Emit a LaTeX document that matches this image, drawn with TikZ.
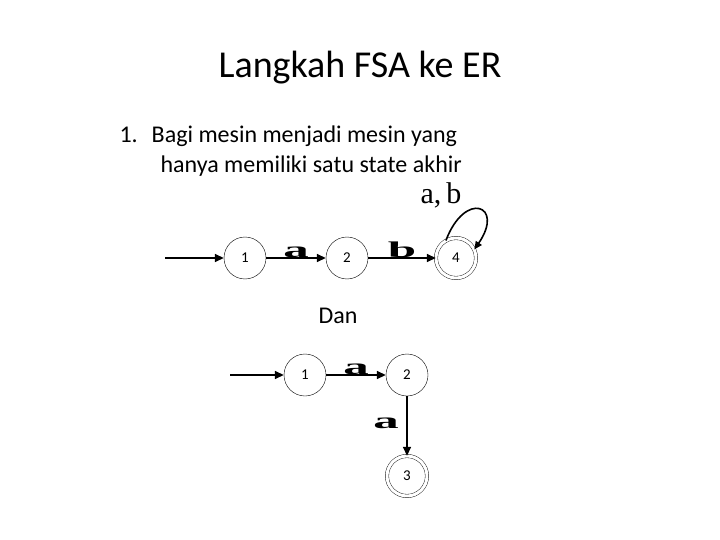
\documentclass[tikz,border=0pt]{standalone}
\usepackage{fontspec}
\setmainfont{Carlito}
\newfontfamily\serifl{Liberation Serif}
\usetikzlibrary{arrows.meta}
\begin{document}
\begin{tikzpicture}[x=1pt,y=-1pt,
  st/.style={circle,draw,thin,minimum size=42pt,inner sep=0pt,font=\fontsize{15}{15}\selectfont},
  fin/.style={st,double,double distance=3pt,minimum size=40pt},
  tr/.style={-{Triangle[length=9pt,width=8pt]},line width=1.6pt},
  lab/.style={font=\serifl\bfseries\fontsize{30}{30}\selectfont},
  txt/.style={anchor=west,font=\fontsize{24}{28}\selectfont}]
\useasboundingbox (0,0) rectangle (720,540);
\node[font=\fontsize{38}{40}\selectfont] (title) at (360,68) {Langkah FSA ke ER};
\node[txt] (l1) at (116,136) {1.\hspace{14pt}Bagi mesin menjadi mesin yang};
\node[txt] (l2) at (157,166) {hanya memiliki satu state akhir};
% top automaton
\coordinate (s1) at (165,258);
\node[st] (a1) at (245,258) {1};
\node[st] (a2) at (347,258) {2};
\node[fin] (a4) at (456,258) {4};
\draw[tr] (s1) -- (a1);
\draw[tr] (a1) -- node[lab,above=-4pt]{\scalebox{1.7}[0.75]{a}} (a2);
\draw[tr] (a2) -- node[lab,above=-4pt]{\scalebox{1.7}[0.75]{b}} (a4);
\draw[-{Triangle[length=8pt,width=7pt]},line width=1.6pt] (a4.120) .. controls (465,190) and (505,205) .. (a4.25);
\node[font=\serifl\fontsize{30}{30}\selectfont] (ab) at (441,195) {a,\,b};
\node[font=\fontsize{24}{24}\selectfont] (dan) at (338,316) {Dan};
% bottom automaton
\coordinate (s2) at (230,375);
\node[st] (b1) at (305,375) {1};
\node[st] (b2) at (407,375) {2};
\node[fin] (b3) at (407,476) {3};
\draw[tr] (s2) -- (b1);
\draw[tr] (b1) -- node[lab,above=-4pt]{\scalebox{1.7}[0.75]{a}} (b2);
\draw[tr] (b2) -- node[lab,left=4pt,pos=0.45]{\scalebox{1.7}[0.75]{a}} (b3);
\end{tikzpicture}
\end{document}
